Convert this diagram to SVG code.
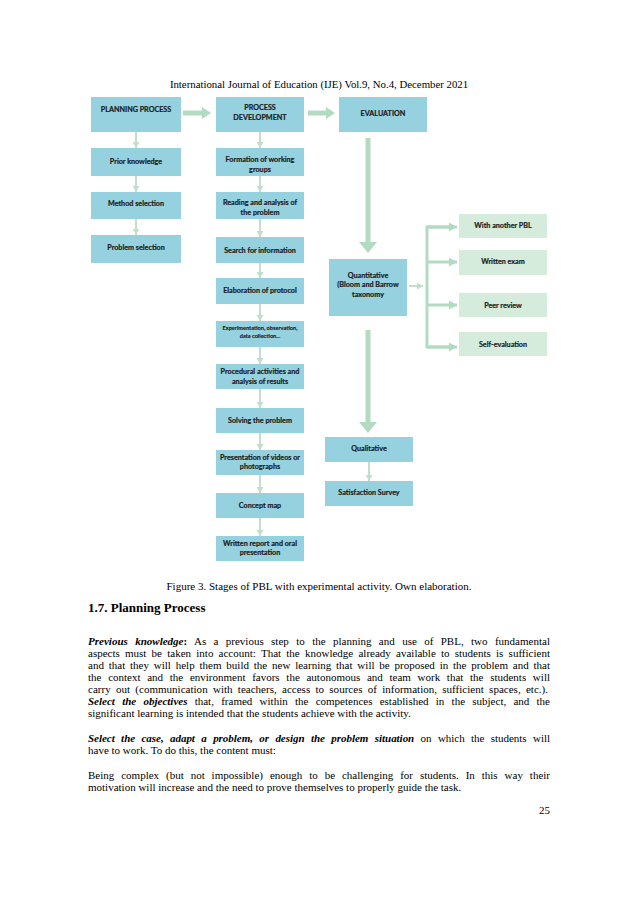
<svg xmlns="http://www.w3.org/2000/svg" width="638" height="902" viewBox="0 0 638 902">
<defs>
<style>
.bb{fill:#96d1e0}
.gb{fill:#d5ebdc}
.lb{font-family:Lato,"Open Sans",sans-serif;font-weight:700;font-size:7.2px;fill:#1c1c1c;stroke:#1c1c1c;stroke-width:0.2;text-anchor:middle}
.hd{font-size:7.2px}
.sm{font-size:5.6px;stroke-width:0.15}
.th{stroke:#c2dfcb;stroke-width:2;fill:none}
.tk{fill:#b3dbc1}
.tx{font-family:"Liberation Serif","Times New Roman",serif;font-size:11px;fill:#000}
.bi{font-weight:700;font-style:italic}
.b{font-weight:700}
</style>
<marker id="ah" markerUnits="userSpaceOnUse" markerWidth="7" markerHeight="7" refX="6" refY="3.5" orient="auto">
<path d="M0,0 L6,3.5 L0,7 z" fill="#c2dfcb"/>
</marker>
<marker id="ah2" markerUnits="userSpaceOnUse" markerWidth="9" markerHeight="9" refX="8" refY="4.5" orient="auto">
<path d="M0,0 L8,4.5 L0,9 z" fill="#b3dbc1"/>
</marker>
</defs>
<rect width="638" height="902" fill="#fff"/>
<text class="tx" x="319" y="88" text-anchor="middle" style="font-size:10.8px">International Journal of Education (IJE) Vol.9, No.4, December 2021</text>

<g id="connectors">
<line class="th" x1="136" y1="132" x2="136" y2="148" marker-end="url(#ah)"/>
<line class="th" x1="136" y1="176" x2="136" y2="192" marker-end="url(#ah)"/>
<line class="th" x1="136" y1="219" x2="136" y2="235" marker-end="url(#ah)"/>
<line class="th" x1="260" y1="132" x2="260" y2="148" marker-end="url(#ah)"/>
<line class="th" x1="260" y1="176" x2="260" y2="192" marker-end="url(#ah)"/>
<line class="th" x1="260" y1="219" x2="260" y2="237" marker-end="url(#ah)"/>
<line class="th" x1="260" y1="263" x2="260" y2="278" marker-end="url(#ah)"/>
<line class="th" x1="260" y1="304" x2="260" y2="321" marker-end="url(#ah)"/>
<line class="th" x1="260" y1="347" x2="260" y2="364" marker-end="url(#ah)"/>
<line class="th" x1="260" y1="389" x2="260" y2="408" marker-end="url(#ah)"/>
<line class="th" x1="260" y1="433" x2="260" y2="450" marker-end="url(#ah)"/>
<line class="th" x1="260" y1="475" x2="260" y2="493" marker-end="url(#ah)"/>
<line class="th" x1="260" y1="518" x2="260" y2="536" marker-end="url(#ah)"/>
<line class="th" x1="369" y1="462" x2="369" y2="481" marker-end="url(#ah)"/>
<line class="th" x1="409" y1="286" x2="423" y2="286" marker-end="url(#ah)"/>
<polygon class="tk" points="183,110.5 202,110.5 202,107 211,113 202,119 202,115.5 183,115.5"/>
<polygon class="tk" points="308,110.5 326,110.5 326,107 335,113 326,119 326,115.5 308,115.5"/>
<polygon class="tk" points="365.5,138 370.5,138 370.5,242 377,242 368,253 359,242 365.5,242"/>
<polygon class="tk" points="365.5,330 370.5,330 370.5,422 377,422 368,433 359,422 365.5,422"/>
<path d="M450,227 H427 V347 H450" stroke="#b3dbc1" stroke-width="3" fill="none"/>
<line x1="427" y1="227" x2="457" y2="227" stroke="#b3dbc1" stroke-width="3" marker-end="url(#ah2)"/>
<line x1="427" y1="262" x2="457" y2="262" stroke="#b3dbc1" stroke-width="3" marker-end="url(#ah2)"/>
<line x1="427" y1="305" x2="457" y2="305" stroke="#b3dbc1" stroke-width="3" marker-end="url(#ah2)"/>
<line x1="427" y1="347" x2="457" y2="347" stroke="#b3dbc1" stroke-width="3" marker-end="url(#ah2)"/>
</g>

<g id="planning"><rect class="bb" x="91" y="97" width="90" height="35"/><text class="lb hd" x="136" y="112">PLANNING PROCESS</text></g>
<g id="prior"><rect class="bb" x="91" y="148" width="90" height="28"/><text class="lb" x="136" y="164">Prior knowledge</text></g>
<g id="method"><rect class="bb" x="91" y="192" width="90" height="27"/><text class="lb" x="136" y="206">Method selection</text></g>
<g id="problem"><rect class="bb" x="91" y="235" width="90" height="28"/><text class="lb" x="136" y="250">Problem selection</text></g>

<g id="procdev"><rect class="bb" x="216" y="97" width="88" height="35"/><text class="lb hd" x="260" y="110">PROCESS</text><text class="lb hd" x="260" y="120">DEVELOPMENT</text></g>
<g id="formation"><rect class="bb" x="216" y="148" width="88" height="28"/><text class="lb" x="260" y="162">Formation of working</text><text class="lb" x="260" y="172">groups</text></g>
<g id="reading"><rect class="bb" x="216" y="192" width="88" height="27"/><text class="lb" x="260" y="205">Reading and analysis of</text><text class="lb" x="260" y="214.5">the problem</text></g>
<g id="search"><rect class="bb" x="216" y="237" width="88" height="26"/><text class="lb" x="260" y="252.5">Search for information</text></g>
<g id="elaboration"><rect class="bb" x="216" y="278" width="88" height="26"/><text class="lb" x="260" y="292.5">Elaboration of protocol</text></g>
<g id="experimentation"><rect class="bb" x="216" y="321" width="88" height="26"/><text class="lb sm" x="260" y="330">Experimentation, observation,</text><text class="lb sm" x="260" y="337.5">data collection...</text></g>
<g id="procedural"><rect class="bb" x="216" y="364" width="88" height="25"/><text class="lb" x="260" y="374">Procedural activities and</text><text class="lb" x="260" y="383.5">analysis of results</text></g>
<g id="solving"><rect class="bb" x="216" y="408" width="88" height="25"/><text class="lb" x="260" y="422.5">Solving the problem</text></g>
<g id="presentation"><rect class="bb" x="216" y="450" width="88" height="25"/><text class="lb" x="260" y="459.5">Presentation of videos or</text><text class="lb" x="260" y="469">photographs</text></g>
<g id="concept"><rect class="bb" x="216" y="493" width="88" height="25"/><text class="lb" x="260" y="507.5">Concept map</text></g>
<g id="report"><rect class="bb" x="216" y="536" width="88" height="25"/><text class="lb" x="260" y="545.5">Written report and oral</text><text class="lb" x="260" y="555">presentation</text></g>

<g id="evaluation"><rect class="bb" x="339" y="97" width="88" height="35"/><text class="lb hd" x="383" y="115.5">EVALUATION</text></g>
<g id="quantitative"><rect class="bb" x="329" y="259" width="78" height="57"/><text class="lb" x="368" y="277.5">Quantitative</text><text class="lb" x="368" y="287">(Bloom and Barrow</text><text class="lb" x="368" y="296.5">taxonomy</text></g>
<g id="qualitative"><rect class="bb" x="325" y="437" width="88" height="25"/><text class="lb" x="369" y="450.5">Qualitative</text></g>
<g id="survey"><rect class="bb" x="325" y="481" width="88" height="25"/><text class="lb" x="369" y="494.5">Satisfaction Survey</text></g>

<g id="another"><rect class="gb" x="459" y="214" width="88" height="24"/><text class="lb" x="503" y="227.5">With another PBL</text></g>
<g id="exam"><rect class="gb" x="459" y="250" width="88" height="25"/><text class="lb" x="503" y="263.5">Written exam</text></g>
<g id="peer"><rect class="gb" x="459" y="293" width="88" height="24"/><text class="lb" x="503" y="307.5">Peer review</text></g>
<g id="self"><rect class="gb" x="459" y="332" width="88" height="24"/><text class="lb" x="503" y="346.5">Self-evaluation</text></g>

<text class="tx" x="319" y="590" text-anchor="middle">Figure 3. Stages of PBL with experimental activity. Own elaboration.</text>
<text class="tx b" x="88" y="612" style="font-size:13px">1.7.  Planning Process</text>
<text class="tx" x="88" y="645" textLength="462" lengthAdjust="spacing" word-spacing="4.6"><tspan class="bi">Previous knowledge</tspan><tspan class="b">:</tspan> As a previous step to the planning and use of PBL, two fundamental</text>
<text class="tx" x="88" y="657" textLength="462" lengthAdjust="spacing" word-spacing="2.45">aspects must be taken into account: That the knowledge already available to students is sufficient</text>
<text class="tx" x="88" y="669" textLength="462" lengthAdjust="spacing" word-spacing="2.07">and that they will help them build the new learning that will be proposed in the problem and that</text>
<text class="tx" x="88" y="681" textLength="462" lengthAdjust="spacing" word-spacing="3.93">the context and the environment favors the autonomous and team work that the students will</text>
<text class="tx" x="88" y="693" textLength="460" lengthAdjust="spacing" word-spacing="2.5">carry out (communication with teachers, access to sources of information, sufficient spaces, etc.).</text>
<text class="tx" x="88" y="705" textLength="462" lengthAdjust="spacing" word-spacing="4.49"><tspan class="bi">Select the objectives</tspan> that, framed within the competences established in the subject, and the</text>
<text class="tx" x="88" y="717">significant learning is intended that the students achieve with the activity.</text>
<text class="tx" x="88" y="742" textLength="462" lengthAdjust="spacing" word-spacing="3.67"><tspan class="bi">Select the case, adapt a problem, or design the problem situation</tspan> on which the students will</text>
<text class="tx" x="88" y="754">have to work. To do this, the content must:</text>
<text class="tx" x="88" y="779" textLength="462" lengthAdjust="spacing" word-spacing="4.17">Being complex (but not impossible) enough to be challenging for students. In this way their</text>
<text class="tx" x="88" y="791">motivation will increase and the need to prove themselves to properly guide the task.</text>
<text class="tx" x="550" y="814" text-anchor="end">25</text>
</svg>
